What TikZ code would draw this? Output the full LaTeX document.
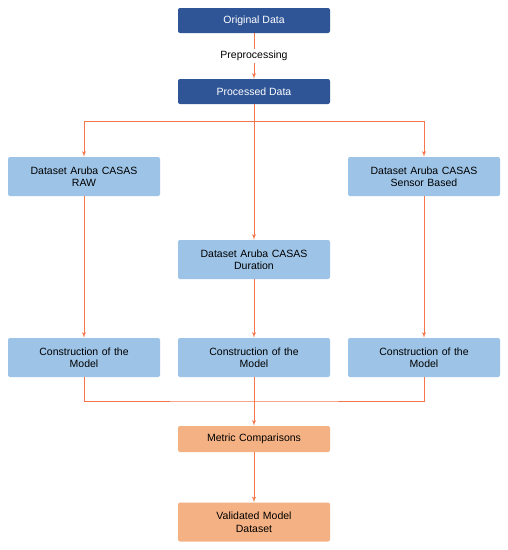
\documentclass[tikz,border=0pt]{standalone}
\usepackage{fontspec}
\setmainfont{Liberation Sans}
\usetikzlibrary{shapes,arrows,positioning}
\definecolor{darkblue}{HTML}{2F5597}
\definecolor{lightblue}{HTML}{9DC3E6}
\definecolor{peach}{HTML}{F4B183}
\definecolor{flow}{HTML}{F4764A}
\tikzstyle{topblock} = [rectangle, fill=darkblue, text=white, minimum width=152pt,
    minimum height=25pt, rounded corners=2pt, font=\fontsize{10.5}{12.5}\selectfont]
\tikzstyle{block} = [rectangle, fill=lightblue, text width=146pt, align=center,
    minimum height=39pt, rounded corners=2pt, inner xsep=3pt, font=\fontsize{10.5}{12.5}\selectfont]
\tikzstyle{endblock} = [block, fill=peach]
\tikzstyle{line} = [draw=flow, line width=0.9pt, -latex']

\begin{document}
\begin{tikzpicture}[x=1pt, y=-1pt]
		\useasboundingbox (0,0) rectangle (508,550);
		% Draw nodes
		\node [topblock] (original) at (254,20.5) {Original Data};
		\node [topblock] (processed) at (254,91.5) {Processed Data};
		\coordinate (split) at (254,121);
		\node [block] (raw) at (84,176.5) {Dataset Aruba CASAS\\RAW};
		\node [block] (sensor) at (424,176.5) {Dataset Aruba CASAS\\Sensor Based};
		\node [block] (duration) at (254,259.5) {Dataset Aruba CASAS\\Duration};
		\node [block] (modelraw) at (84,357.5) {Construction of the\\Model};
		\node [block] (modelduration) at (254,357.5) {Construction of the\\Model};
		\node [block] (modelsensor) at (424,357.5) {Construction of the\\Model};
		\coordinate (merge) at (254,401);
		\node [endblock, minimum height=26pt] (metric) at (254,439) {Metric Comparisons};
		\node [endblock] (validated) at (254,522) {Validated Model\\Dataset};
		% Draw lines connecting (arrows)
		\path [line] (original) -- node [midway, fill=white, inner sep=2pt, font=\fontsize{10.5}{12.5}\selectfont] {Preprocessing} (processed);
		\path [line] (processed) -- (duration);
		\path [line] (split) -| (raw);
		\path [line] (split) -| (sensor);
		\path [line] (raw) -- (modelraw);
		\path [line] (duration) -- (modelduration);
		\path [line] (sensor) -- (modelsensor);
		\draw [draw=flow, line width=0.9pt] (modelraw) |- (merge) -| (modelsensor);
		\path [line] (modelduration) -- (metric);
		\path [line] (metric) -- (validated);
	\end{tikzpicture}
\end{document}
